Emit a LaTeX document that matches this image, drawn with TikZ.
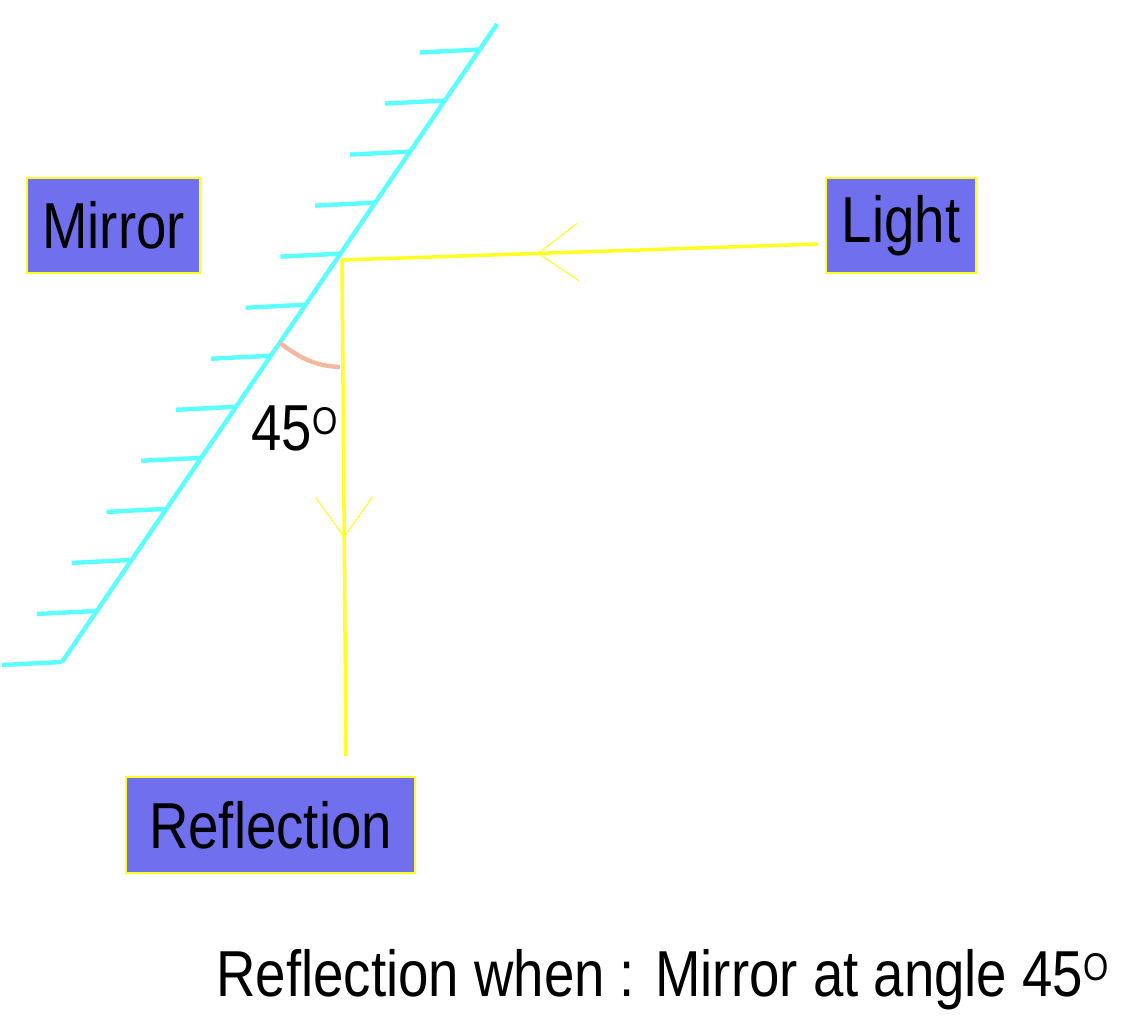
\documentclass[tikz,border=0pt]{standalone}
\usepackage{fontspec}
\setmainfont{Liberation Sans}[FakeStretch=0.84]
\usetikzlibrary{arrows.meta,decorations.markings,calc}
\definecolor{boxblue}{HTML}{7070EE}
\definecolor{mirrorcyan}{HTML}{5CFFFF}
\definecolor{rayyellow}{HTML}{FFFF22}
\definecolor{anglepink}{HTML}{F4B8A0}
\begin{document}
\begin{tikzpicture}[x=0.02cm, y=-0.02cm,
  every node/.style={font=\fontsize{37}{40}\selectfont},
  label box/.style={draw=rayyellow, fill=boxblue, line width=1pt, inner sep=0pt},
  mirror/.style={draw=mirrorcyan, line width=2.5pt},
  ray/.style={draw=rayyellow, line width=2pt},
  chevron/.style={postaction={decorate, decoration={markings,
      mark=at position #1 with {\arrow[rayyellow, line width=0.6pt]{Straight Barb[length=0.8cm, width=1.15cm]}}}}},
  ]
  \useasboundingbox (0,0) rectangle (1136,1024);
  % mirror and its hatches
  \coordinate (m0) at (62,662);
  \coordinate (m1) at (497,24);
  \draw[mirror] (m0) -- (m1);
  \foreach \s in {0.0,0.08,...,0.99} {
    \draw[mirror] ($(m0)!\s!(m1)$) -- ++(-60,3);
  }
  % labels
  \node[label box, minimum width=3.46cm, minimum height=1.9cm] (mirrorlbl) at (113.5,225.5) {Mirror};
  \node[label box, minimum width=3.0cm, minimum height=1.9cm] (light) at (901,225.5) {Light};
  \node[label box, minimum width=5.78cm, minimum height=1.92cm] (reflection) at (270.5,825) {Reflection};
  % rays
  \coordinate (hit) at (342,260);
  \coordinate (out) at (346,756);
  \draw[ray, chevron=0.59] (818,244) -- (hit);
  \draw[ray, chevron=0.56] (hit) -- (out);
  % angle
  \draw[anglepink, line width=2.5pt] (280,343) .. controls (305,362) and (320,366) .. (340,367);
  \node (angle) at (295,428) {45$^{\textrm{\fontsize{22}{24}\selectfont O}}$};
  \node[anchor=west, inner sep=0pt] (caption) at (216,980) {Reflection when : Mirror at angle 45$^{\textrm{\fontsize{22}{24}\selectfont O}}$};
\end{tikzpicture}
\end{document}
